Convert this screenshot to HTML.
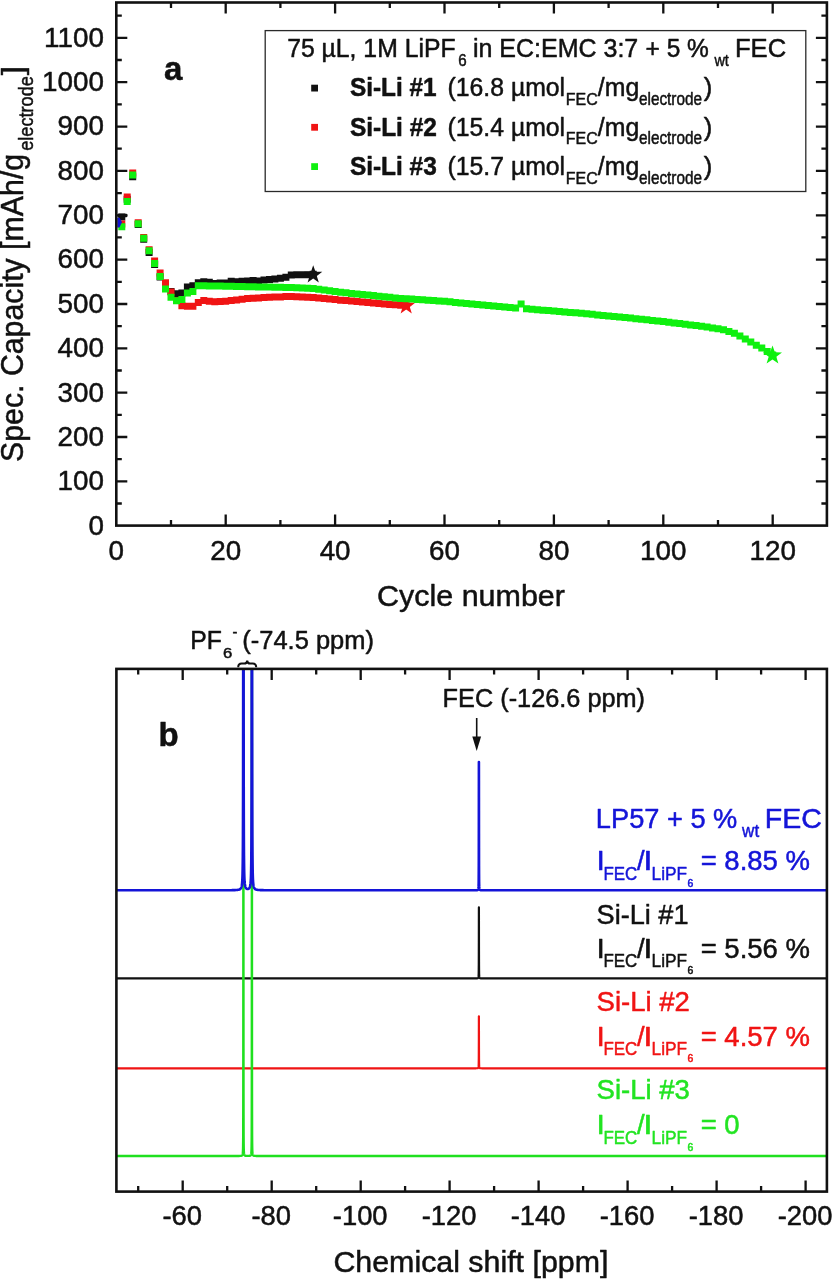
<!DOCTYPE html>
<html lang="en"><head><meta charset="utf-8"><title>Figure</title>
<style>html,body{margin:0;padding:0;background:#fff}svg{display:block}text{stroke-width:.5px;stroke-linejoin:round}</style></head>
<body>
<svg width="834" height="1280" viewBox="0 0 834 1280" font-family='"Liberation Sans", Arial, Helvetica, sans-serif'>
<rect width="834" height="1280" fill="#fff"/>
<g>
<rect x="117.6" y="213.8" width="9.8" height="3.4" rx="1.2" fill="#111"/>
<path d="M118.3 213.5h7.0v7.0h-7.0zM123.7 195.8h7.0v7.0h-7.0zM129.2 173.2h7.0v7.0h-7.0zM134.7 221.1h7.0v7.0h-7.0zM140.2 235.7h7.0v7.0h-7.0zM145.6 249.0h7.0v7.0h-7.0zM151.1 261.0h7.0v7.0h-7.0zM156.6 273.4h7.0v7.0h-7.0zM162.0 284.5h7.0v7.0h-7.0zM167.5 288.0h7.0v7.0h-7.0zM173.0 290.2h7.0v7.0h-7.0zM178.4 289.4h7.0v7.0h-7.0zM183.9 283.6h7.0v7.0h-7.0zM189.4 282.3h7.0v7.0h-7.0zM194.8 279.2h7.0v7.0h-7.0zM200.3 278.3h7.0v7.0h-7.0zM205.8 278.7h7.0v7.0h-7.0zM211.3 280.0h7.0v7.0h-7.0zM216.7 279.6h7.0v7.0h-7.0zM222.2 279.6h7.0v7.0h-7.0zM227.7 277.8h7.0v7.0h-7.0zM233.1 278.3h7.0v7.0h-7.0zM238.6 277.8h7.0v7.0h-7.0zM244.1 277.4h7.0v7.0h-7.0zM249.6 276.9h7.0v7.0h-7.0zM255.0 277.4h7.0v7.0h-7.0zM260.5 276.5h7.0v7.0h-7.0zM266.0 276.1h7.0v7.0h-7.0zM271.4 275.6h7.0v7.0h-7.0zM276.9 274.7h7.0v7.0h-7.0zM282.4 273.8h7.0v7.0h-7.0zM287.8 271.6h7.0v7.0h-7.0zM293.3 271.2h7.0v7.0h-7.0zM298.8 271.2h7.0v7.0h-7.0zM304.2 271.2h7.0v7.0h-7.0zM309.7 270.7h7.0v7.0h-7.0z" fill="#111"/>
<polygon points="313.2,265.2 315.5,271.7 322.3,271.8 316.8,275.9 318.8,282.4 313.2,278.5 307.6,282.4 309.6,275.9 304.2,271.8 311.0,271.7" fill="#111"/>
<path d="M118.3 220.6h7.0v7.0h-7.0zM123.7 193.6h7.0v7.0h-7.0zM129.2 169.6h7.0v7.0h-7.0zM134.7 219.3h7.0v7.0h-7.0zM140.2 233.9h7.0v7.0h-7.0zM145.6 246.3h7.0v7.0h-7.0zM151.1 257.4h7.0v7.0h-7.0zM156.6 269.4h7.0v7.0h-7.0zM162.0 279.2h7.0v7.0h-7.0zM167.5 288.5h7.0v7.0h-7.0zM173.0 296.9h7.0v7.0h-7.0zM178.4 302.2h7.0v7.0h-7.0zM183.9 302.7h7.0v7.0h-7.0zM189.4 302.7h7.0v7.0h-7.0zM194.8 299.1h7.0v7.0h-7.0zM200.3 296.9h7.0v7.0h-7.0zM205.8 297.8h7.0v7.0h-7.0zM211.3 298.2h7.0v7.0h-7.0zM216.7 298.0h7.0v7.0h-7.0zM222.2 297.8h7.0v7.0h-7.0zM227.7 297.1h7.0v7.0h-7.0zM233.1 296.5h7.0v7.0h-7.0zM238.6 295.8h7.0v7.0h-7.0zM244.1 295.1h7.0v7.0h-7.0zM249.6 294.8h7.0v7.0h-7.0zM255.0 294.5h7.0v7.0h-7.0zM260.5 294.1h7.0v7.0h-7.0zM266.0 293.8h7.0v7.0h-7.0zM271.4 293.6h7.0v7.0h-7.0zM276.9 293.4h7.0v7.0h-7.0zM282.4 293.1h7.0v7.0h-7.0zM287.8 292.9h7.0v7.0h-7.0zM293.3 293.2h7.0v7.0h-7.0zM298.8 293.5h7.0v7.0h-7.0zM304.2 293.7h7.0v7.0h-7.0zM309.7 294.0h7.0v7.0h-7.0zM315.2 294.6h7.0v7.0h-7.0zM320.7 295.1h7.0v7.0h-7.0zM326.1 295.6h7.0v7.0h-7.0zM331.6 296.1h7.0v7.0h-7.0zM337.1 296.7h7.0v7.0h-7.0zM342.5 297.1h7.0v7.0h-7.0zM348.0 297.6h7.0v7.0h-7.0zM353.5 298.0h7.0v7.0h-7.0zM358.9 298.5h7.0v7.0h-7.0zM364.4 298.9h7.0v7.0h-7.0zM369.9 299.4h7.0v7.0h-7.0zM375.4 299.9h7.0v7.0h-7.0zM380.8 300.4h7.0v7.0h-7.0zM386.3 300.9h7.0v7.0h-7.0zM391.8 301.3h7.0v7.0h-7.0zM397.2 301.8h7.0v7.0h-7.0zM402.7 302.2h7.0v7.0h-7.0z" fill="#f01414"/>
<polygon points="406.2,296.2 408.4,302.6 415.2,302.8 409.8,306.9 411.8,313.4 406.2,309.5 400.6,313.4 402.6,306.9 397.2,302.8 404.0,302.6" fill="#f01414"/>
<path d="M118.3 223.3h7.0v7.0h-7.0zM123.7 198.0h7.0v7.0h-7.0zM129.2 171.4h7.0v7.0h-7.0zM134.7 220.2h7.0v7.0h-7.0zM140.2 234.8h7.0v7.0h-7.0zM145.6 247.2h7.0v7.0h-7.0zM151.1 260.1h7.0v7.0h-7.0zM156.6 273.0h7.0v7.0h-7.0zM162.0 285.4h7.0v7.0h-7.0zM167.5 293.8h7.0v7.0h-7.0zM173.0 297.3h7.0v7.0h-7.0zM178.4 296.0h7.0v7.0h-7.0zM183.9 289.4h7.0v7.0h-7.0zM189.4 288.0h7.0v7.0h-7.0zM194.8 282.3h7.0v7.0h-7.0zM200.3 282.3h7.0v7.0h-7.0zM205.8 282.4h7.0v7.0h-7.0zM211.3 282.5h7.0v7.0h-7.0zM216.7 282.6h7.0v7.0h-7.0zM222.2 282.7h7.0v7.0h-7.0zM227.7 282.8h7.0v7.0h-7.0zM233.1 282.9h7.0v7.0h-7.0zM238.6 283.0h7.0v7.0h-7.0zM244.1 283.2h7.0v7.0h-7.0zM249.6 283.3h7.0v7.0h-7.0zM255.0 283.4h7.0v7.0h-7.0zM260.5 283.5h7.0v7.0h-7.0zM266.0 283.6h7.0v7.0h-7.0zM271.4 283.7h7.0v7.0h-7.0zM276.9 283.8h7.0v7.0h-7.0zM282.4 283.9h7.0v7.0h-7.0zM287.8 284.0h7.0v7.0h-7.0zM293.3 284.3h7.0v7.0h-7.0zM298.8 284.5h7.0v7.0h-7.0zM304.2 284.7h7.0v7.0h-7.0zM309.7 284.9h7.0v7.0h-7.0zM315.2 285.7h7.0v7.0h-7.0zM320.7 286.4h7.0v7.0h-7.0zM326.1 287.2h7.0v7.0h-7.0zM331.6 287.9h7.0v7.0h-7.0zM337.1 288.7h7.0v7.0h-7.0zM342.5 289.3h7.0v7.0h-7.0zM348.0 289.9h7.0v7.0h-7.0zM353.5 290.4h7.0v7.0h-7.0zM358.9 291.0h7.0v7.0h-7.0zM364.4 291.6h7.0v7.0h-7.0zM369.9 292.1h7.0v7.0h-7.0zM375.4 292.7h7.0v7.0h-7.0zM380.8 293.2h7.0v7.0h-7.0zM386.3 293.8h7.0v7.0h-7.0zM391.8 294.4h7.0v7.0h-7.0zM397.2 294.9h7.0v7.0h-7.0zM402.7 295.3h7.0v7.0h-7.0zM408.2 295.6h7.0v7.0h-7.0zM413.6 296.0h7.0v7.0h-7.0zM419.1 296.3h7.0v7.0h-7.0zM424.6 296.7h7.0v7.0h-7.0zM430.1 297.1h7.0v7.0h-7.0zM435.5 297.4h7.0v7.0h-7.0zM441.0 297.8h7.0v7.0h-7.0zM446.5 298.3h7.0v7.0h-7.0zM451.9 298.9h7.0v7.0h-7.0zM457.4 299.4h7.0v7.0h-7.0zM462.9 300.0h7.0v7.0h-7.0zM468.4 300.5h7.0v7.0h-7.0zM473.8 301.1h7.0v7.0h-7.0zM479.3 301.6h7.0v7.0h-7.0zM484.8 302.1h7.0v7.0h-7.0zM490.2 302.5h7.0v7.0h-7.0zM495.7 303.0h7.0v7.0h-7.0zM501.2 303.5h7.0v7.0h-7.0zM506.6 304.0h7.0v7.0h-7.0zM512.1 304.4h7.0v7.0h-7.0zM517.6 300.5h7.0v7.0h-7.0zM523.0 305.3h7.0v7.0h-7.0zM528.5 305.8h7.0v7.0h-7.0zM534.0 306.2h7.0v7.0h-7.0zM539.5 306.7h7.0v7.0h-7.0zM544.9 307.1h7.0v7.0h-7.0zM550.4 307.5h7.0v7.0h-7.0zM555.9 308.0h7.0v7.0h-7.0zM561.3 308.4h7.0v7.0h-7.0zM566.8 308.9h7.0v7.0h-7.0zM572.3 309.3h7.0v7.0h-7.0zM577.8 309.8h7.0v7.0h-7.0zM583.2 310.3h7.0v7.0h-7.0zM588.7 310.8h7.0v7.0h-7.0zM594.2 311.4h7.0v7.0h-7.0zM599.6 311.9h7.0v7.0h-7.0zM605.1 312.5h7.0v7.0h-7.0zM610.6 313.0h7.0v7.0h-7.0zM616.0 313.5h7.0v7.0h-7.0zM621.5 314.1h7.0v7.0h-7.0zM627.0 314.6h7.0v7.0h-7.0zM632.4 315.2h7.0v7.0h-7.0zM637.9 315.7h7.0v7.0h-7.0zM643.4 316.3h7.0v7.0h-7.0zM648.9 316.9h7.0v7.0h-7.0zM654.3 317.5h7.0v7.0h-7.0zM659.8 318.1h7.0v7.0h-7.0zM665.3 318.7h7.0v7.0h-7.0zM670.7 319.4h7.0v7.0h-7.0zM676.2 320.0h7.0v7.0h-7.0zM681.7 320.7h7.0v7.0h-7.0zM687.1 321.4h7.0v7.0h-7.0zM692.6 322.1h7.0v7.0h-7.0zM698.1 322.8h7.0v7.0h-7.0zM703.6 323.5h7.0v7.0h-7.0zM709.0 324.4h7.0v7.0h-7.0zM714.5 325.3h7.0v7.0h-7.0zM720.0 326.2h7.0v7.0h-7.0zM725.4 327.9h7.0v7.0h-7.0zM730.9 329.7h7.0v7.0h-7.0zM736.4 332.4h7.0v7.0h-7.0zM741.8 335.5h7.0v7.0h-7.0zM747.3 338.6h7.0v7.0h-7.0zM752.8 341.7h7.0v7.0h-7.0zM758.3 344.4h7.0v7.0h-7.0zM763.7 347.9h7.0v7.0h-7.0zM769.2 351.5h7.0v7.0h-7.0z" fill="#0ff00f"/>
<polygon points="772.5,345.6 774.9,352.3 782.0,352.5 776.3,356.8 778.4,363.6 772.5,359.6 766.6,363.6 768.7,356.8 763.0,352.5 770.1,352.3" fill="#0ff00f"/>
<polygon points="117.3,217.7 119.6,217.7 122,222.3 119.4,227.4 117.3,227.4" fill="#1212d4"/>
</g>
<g stroke="#111" stroke-width="2.6" fill="none" stroke-linecap="butt">
<rect x="116.3" y="2.5" width="710.6" height="523.1"/>
<path d="M116.3 503.5h5.5M826.9 503.5h-5.5M116.3 481.4h11M826.9 481.4h-11M116.3 459.2h5.5M826.9 459.2h-5.5M116.3 437.0h11M826.9 437.0h-11M116.3 414.8h5.5M826.9 414.8h-5.5M116.3 392.7h11M826.9 392.7h-11M116.3 370.5h5.5M826.9 370.5h-5.5M116.3 348.3h11M826.9 348.3h-11M116.3 326.1h5.5M826.9 326.1h-5.5M116.3 304.0h11M826.9 304.0h-11M116.3 281.8h5.5M826.9 281.8h-5.5M116.3 259.6h11M826.9 259.6h-11M116.3 237.4h5.5M826.9 237.4h-5.5M116.3 215.3h11M826.9 215.3h-11M116.3 193.1h5.5M826.9 193.1h-5.5M116.3 170.9h11M826.9 170.9h-11M116.3 148.7h5.5M826.9 148.7h-5.5M116.3 126.6h11M826.9 126.6h-11M116.3 104.4h5.5M826.9 104.4h-5.5M116.3 82.2h11M826.9 82.2h-11M116.3 60.0h5.5M826.9 60.0h-5.5M116.3 37.9h11M826.9 37.9h-11M116.3 15.7h5.5M826.9 15.7h-5.5M171.0 525.6v-5.5M171.0 2.5v5.5M225.7 525.6v-11M225.7 2.5v11M280.4 525.6v-5.5M280.4 2.5v5.5M335.1 525.6v-11M335.1 2.5v11M389.8 525.6v-5.5M389.8 2.5v5.5M444.5 525.6v-11M444.5 2.5v11M499.2 525.6v-5.5M499.2 2.5v5.5M553.9 525.6v-11M553.9 2.5v11M608.6 525.6v-5.5M608.6 2.5v5.5M663.3 525.6v-11M663.3 2.5v11M718.0 525.6v-5.5M718.0 2.5v5.5M772.7 525.6v-11M772.7 2.5v11" stroke-width="2.3"/>
</g>
<g font-size="27.8" fill="#111" stroke="#111">
<text x="103.9" y="534.5" text-anchor="end">0</text>
<text x="103.9" y="490.2" text-anchor="end">100</text>
<text x="103.9" y="445.8" text-anchor="end">200</text>
<text x="103.9" y="401.5" text-anchor="end">300</text>
<text x="103.9" y="357.1" text-anchor="end">400</text>
<text x="103.9" y="312.8" text-anchor="end">500</text>
<text x="103.9" y="268.4" text-anchor="end">600</text>
<text x="103.9" y="224.1" text-anchor="end">700</text>
<text x="103.9" y="179.7" text-anchor="end">800</text>
<text x="103.9" y="135.4" text-anchor="end">900</text>
<text x="103.9" y="91.0" text-anchor="end">1000</text>
<text x="103.9" y="46.7" text-anchor="end">1100</text>
<text x="116.3" y="559.5" text-anchor="middle">0</text>
<text x="225.7" y="559.5" text-anchor="middle">20</text>
<text x="335.1" y="559.5" text-anchor="middle">40</text>
<text x="444.5" y="559.5" text-anchor="middle">60</text>
<text x="553.9" y="559.5" text-anchor="middle">80</text>
<text x="663.3" y="559.5" text-anchor="middle">100</text>
<text x="772.7" y="559.5" text-anchor="middle">120</text>
</g>
<g fill="#111" stroke="#111">
<text x="377.05" y="606.10" font-size="30" textLength="187.85" lengthAdjust="spacingAndGlyphs">Cycle number</text>
<g transform="translate(0 461) rotate(-90)">
<text x="-0.98" y="22.60" font-size="31" textLength="308.03" lengthAdjust="spacingAndGlyphs">Spec. Capacity [mAh/g</text>
<text x="310.23" y="33.30" font-size="21" textLength="74.68" lengthAdjust="spacingAndGlyphs">electrode</text>
<text x="385.84" y="22.60" font-size="30" textLength="9.23" lengthAdjust="spacingAndGlyphs">]</text>
</g>
<text x="164" y="79.7" font-size="33" font-weight="bold">a</text>
</g>
<rect x="265.2" y="30.6" width="540.6" height="160.9" fill="#fff" stroke="#2a2a2a" stroke-width="1.3"/>
<g fill="#111" stroke="#111">
<text x="287.13" y="57.00" font-size="25" textLength="168.46" lengthAdjust="spacingAndGlyphs">75 µL, 1M LiPF</text>
<text x="458.13" y="66.40" font-size="17" textLength="8.44" lengthAdjust="spacingAndGlyphs" stroke-width=".42">6</text>
<text x="472.92" y="57.00" font-size="25">in EC:EMC 3:7</text>
<text x="645.60" y="57.00" font-size="25" textLength="63.27" lengthAdjust="spacingAndGlyphs">+ 5 %</text>
<text x="714.42" y="65.80" font-size="17" textLength="14.48" lengthAdjust="spacingAndGlyphs" stroke-width=".42">wt</text>
<text x="734.90" y="57.00" font-size="25" textLength="51.28" lengthAdjust="spacingAndGlyphs">FEC</text>
<rect x="311.2" y="84.7" width="6.8" height="6.8" fill="#111" stroke="none"/>
<text x="349.90" y="96.30" font-size="25" textLength="86.68" lengthAdjust="spacingAndGlyphs" font-weight="bold">Si-Li #1</text>
<text x="447.56" y="96.30" font-size="25" textLength="117.59" lengthAdjust="spacingAndGlyphs">(16.8 µmol</text>
<text x="565.79" y="105.10" font-size="17" textLength="31.92" lengthAdjust="spacingAndGlyphs" stroke-width=".42">FEC</text>
<text x="597.80" y="96.30" font-size="25" textLength="41.40" lengthAdjust="spacingAndGlyphs">/mg</text>
<text x="638.95" y="105.10" font-size="17.5" textLength="63.13" lengthAdjust="spacingAndGlyphs" stroke-width=".42">electrode</text>
<text x="703.65" y="96.30" font-size="25" textLength="8.54" lengthAdjust="spacingAndGlyphs">)</text>
<rect x="311.2" y="123.9" width="6.8" height="6.8" fill="#f01414" stroke="none"/>
<text x="349.90" y="135.50" font-size="25" textLength="86.98" lengthAdjust="spacingAndGlyphs" font-weight="bold">Si-Li #2</text>
<text x="447.56" y="135.50" font-size="25" textLength="117.59" lengthAdjust="spacingAndGlyphs">(15.4 µmol</text>
<text x="565.79" y="144.30" font-size="17" textLength="31.92" lengthAdjust="spacingAndGlyphs" stroke-width=".42">FEC</text>
<text x="597.80" y="135.50" font-size="25" textLength="41.40" lengthAdjust="spacingAndGlyphs">/mg</text>
<text x="638.95" y="144.30" font-size="17.5" textLength="63.13" lengthAdjust="spacingAndGlyphs" stroke-width=".42">electrode</text>
<text x="703.65" y="135.50" font-size="25" textLength="8.54" lengthAdjust="spacingAndGlyphs">)</text>
<rect x="311.2" y="163.2" width="6.8" height="6.8" fill="#0ff00f" stroke="none"/>
<text x="349.90" y="174.80" font-size="25" textLength="86.89" lengthAdjust="spacingAndGlyphs" font-weight="bold">Si-Li #3</text>
<text x="447.56" y="174.80" font-size="25" textLength="117.59" lengthAdjust="spacingAndGlyphs">(15.7 µmol</text>
<text x="565.79" y="183.60" font-size="17" textLength="31.92" lengthAdjust="spacingAndGlyphs" stroke-width=".42">FEC</text>
<text x="597.80" y="174.80" font-size="25" textLength="41.40" lengthAdjust="spacingAndGlyphs">/mg</text>
<text x="638.95" y="183.60" font-size="17.5" textLength="63.13" lengthAdjust="spacingAndGlyphs" stroke-width=".42">electrode</text>
<text x="703.65" y="174.80" font-size="25" textLength="8.54" lengthAdjust="spacingAndGlyphs">)</text>
</g>
<clipPath id="cb"><rect x="116.4" y="668.9" width="710.5" height="522.7"/></clipPath>
<g clip-path="url(#cb)" fill="none" stroke-width="2" stroke-linejoin="round">
<path d="M116.40 978.40L453.90 978.40L456.75 978.40L459.27 978.40L461.50 978.40L463.48 978.40L465.24 978.40L466.79 978.40L468.17 978.40L469.39 978.40L470.48 978.40L471.44 978.40L472.29 978.39L473.04 978.39L473.70 978.39L474.30 978.39L474.82 978.38L475.29 978.38L475.70 978.38L476.06 978.37L476.38 978.36L476.67 978.35L476.93 978.33L477.15 978.32L477.35 978.29L477.52 978.27L477.68 978.23L477.82 978.18L477.94 978.12L478.05 978.05L478.15 977.95L478.23 977.83L478.31 977.67L478.38 977.48L478.44 977.23L478.49 976.91L478.54 976.52L478.58 976.02L478.61 975.41L478.65 974.62L478.68 973.65L478.70 972.48L478.72 971.01L478.74 969.25L478.76 967.11L478.78 964.75L478.79 961.89L478.80 958.46L478.81 954.79L478.82 951.14L478.83 946.80L478.84 942.30L478.85 938.52L478.85 934.40L478.86 930.00L478.86 926.96L478.87 923.12L478.87 920.85L478.88 917.90L478.88 916.50L478.88 914.50L478.90 907.40L478.92 914.50L478.92 916.50L478.93 917.90L478.93 920.85L478.93 923.12L478.94 926.96L478.94 930.00L478.95 934.40L478.95 938.52L478.96 942.30L478.97 946.80L478.98 951.14L478.99 954.79L479.00 958.46L479.01 961.89L479.02 964.75L479.04 967.11L479.06 969.25L479.08 971.01L479.10 972.48L479.12 973.65L479.15 974.62L479.19 975.41L479.22 976.02L479.26 976.52L479.31 976.91L479.36 977.23L479.42 977.48L479.49 977.67L479.57 977.83L479.65 977.95L479.75 978.05L479.86 978.12L479.98 978.18L480.12 978.23L480.27 978.27L480.45 978.29L480.65 978.32L480.88 978.33L481.13 978.35L481.42 978.36L481.74 978.37L482.10 978.38L482.51 978.38L482.98 978.38L483.50 978.39L484.10 978.39L484.76 978.39L485.51 978.39L486.37 978.40L487.32 978.40L488.41 978.40L489.63 978.40L491.01 978.40L492.56 978.40L494.32 978.40L496.30 978.40L498.53 978.40L501.05 978.40L503.90 978.40L826.90 978.40" stroke="#111" stroke-width="2.2"/>
<path d="M116.40 1068.30L453.90 1068.30L456.75 1068.30L459.27 1068.30L461.50 1068.30L463.48 1068.30L465.24 1068.30L466.79 1068.30L468.17 1068.30L469.39 1068.30L470.48 1068.30L471.44 1068.30L472.29 1068.30L473.04 1068.29L473.70 1068.29L474.30 1068.29L474.82 1068.29L475.29 1068.29L475.70 1068.28L476.06 1068.28L476.38 1068.27L476.67 1068.26L476.93 1068.25L477.15 1068.24L477.35 1068.22L477.52 1068.20L477.68 1068.17L477.82 1068.14L477.94 1068.10L478.05 1068.04L478.15 1067.97L478.23 1067.88L478.31 1067.77L478.38 1067.62L478.44 1067.44L478.49 1067.21L478.54 1066.92L478.58 1066.56L478.61 1066.11L478.65 1065.53L478.68 1064.82L478.70 1063.97L478.72 1062.89L478.74 1061.60L478.76 1060.03L478.78 1058.30L478.79 1056.21L478.80 1053.69L478.81 1051.01L478.82 1048.33L478.83 1045.16L478.84 1041.86L478.85 1039.09L478.85 1036.07L478.86 1032.85L478.86 1030.63L478.87 1027.82L478.87 1026.15L478.88 1023.99L478.88 1022.96L478.88 1021.50L478.90 1016.30L478.92 1021.50L478.92 1022.96L478.93 1023.99L478.93 1026.15L478.93 1027.82L478.94 1030.63L478.94 1032.85L478.95 1036.07L478.95 1039.09L478.96 1041.86L478.97 1045.16L478.98 1048.33L478.99 1051.01L479.00 1053.69L479.01 1056.21L479.02 1058.30L479.04 1060.03L479.06 1061.60L479.08 1062.89L479.10 1063.97L479.12 1064.82L479.15 1065.53L479.19 1066.11L479.22 1066.56L479.26 1066.92L479.31 1067.21L479.36 1067.44L479.42 1067.62L479.49 1067.77L479.57 1067.88L479.65 1067.97L479.75 1068.04L479.86 1068.10L479.98 1068.14L480.12 1068.17L480.27 1068.20L480.45 1068.22L480.65 1068.24L480.88 1068.25L481.13 1068.26L481.42 1068.27L481.74 1068.28L482.10 1068.28L482.51 1068.29L482.98 1068.29L483.50 1068.29L484.10 1068.29L484.76 1068.29L485.51 1068.30L486.37 1068.30L487.32 1068.30L488.41 1068.30L489.63 1068.30L491.01 1068.30L492.56 1068.30L494.32 1068.30L496.30 1068.30L498.53 1068.30L501.05 1068.30L503.90 1068.30L826.90 1068.30" stroke="#f01414" stroke-width="2.2"/>
<path d="M116.40 1156.00L218.40 1156.00L221.25 1156.00L223.77 1156.00L226.00 1156.00L226.90 1155.99L227.98 1155.99L229.74 1155.99L229.75 1155.99L231.29 1155.99L232.27 1155.99L232.67 1155.99L233.89 1155.99L234.50 1155.98L234.98 1155.98L235.94 1155.98L236.48 1155.97L236.78 1155.97L237.54 1155.97L238.21 1155.96L238.24 1155.96L238.80 1155.95L239.32 1155.93L239.78 1155.92L239.79 1155.92L240.20 1155.90L240.56 1155.87L240.88 1155.83L241.17 1155.79L241.17 1155.79L241.43 1155.73L241.65 1155.66L241.85 1155.57L242.03 1155.46L242.18 1155.32L242.32 1155.13L242.39 1155.00L242.44 1154.90L242.55 1154.60L242.65 1154.22L242.73 1153.73L242.81 1153.12L242.88 1152.33L242.94 1151.32L242.99 1150.04L243.04 1148.45L243.08 1146.35L243.11 1143.78L243.15 1140.39L243.18 1136.10L243.20 1130.80L243.22 1123.81L243.24 1115.06L243.26 1103.75L243.28 1090.32L243.29 1072.52L243.30 1048.64L243.31 1019.47L243.32 985.80L243.33 938.07L243.34 876.73L243.35 812.23L243.35 722.90L243.36 662.90L243.36 662.90L243.37 662.90L243.37 662.90L243.38 662.90L243.38 662.90L243.38 662.90L243.40 662.90L243.42 662.90L243.42 662.90L243.43 662.90L243.43 662.90L243.43 662.90L243.44 662.90L243.44 662.90L243.45 722.90L243.45 812.23L243.46 876.73L243.47 938.07L243.48 985.80L243.49 1019.47L243.50 1048.64L243.51 1072.52L243.52 1090.32L243.54 1103.75L243.56 1115.06L243.58 1123.81L243.60 1130.80L243.62 1136.10L243.65 1140.39L243.69 1143.77L243.72 1146.35L243.76 1148.44L243.81 1150.04L243.86 1151.32L243.92 1152.33L243.99 1153.11L244.07 1153.73L244.15 1154.21L244.25 1154.59L244.36 1154.89L244.44 1155.05L244.48 1155.12L244.62 1155.31L244.78 1155.45L244.95 1155.56L245.15 1155.65L245.28 1155.70L245.38 1155.72L245.63 1155.77L245.92 1155.81L246.04 1155.83L246.24 1155.84L246.60 1155.87L246.71 1155.87L247.01 1155.88L247.30 1155.89L247.48 1155.89L247.82 1155.89L248.00 1155.89L248.28 1155.88L248.59 1155.87L248.70 1155.87L249.06 1155.84L249.26 1155.83L249.38 1155.81L249.67 1155.77L249.93 1155.72L250.01 1155.70L250.15 1155.65L250.35 1155.56L250.53 1155.45L250.68 1155.31L250.82 1155.12L250.87 1155.05L250.94 1154.89L251.05 1154.59L251.15 1154.21L251.23 1153.73L251.31 1153.11L251.38 1152.33L251.44 1151.32L251.49 1150.04L251.54 1148.44L251.58 1146.35L251.61 1143.77L251.65 1140.39L251.68 1136.10L251.70 1130.80L251.72 1123.81L251.74 1115.06L251.76 1103.75L251.78 1090.32L251.79 1072.52L251.80 1048.64L251.81 1019.47L251.82 985.80L251.83 938.07L251.84 876.73L251.85 812.23L251.85 722.90L251.86 662.90L251.86 662.90L251.87 662.90L251.87 662.90L251.88 662.90L251.88 662.90L251.88 662.90L251.90 662.90L251.92 662.90L251.92 662.90L251.93 662.90L251.93 662.90L251.93 662.90L251.94 662.90L251.94 662.90L251.95 722.90L251.95 812.23L251.96 876.73L251.97 938.07L251.98 985.80L251.99 1019.47L252.00 1048.64L252.01 1072.52L252.02 1090.32L252.04 1103.75L252.06 1115.06L252.08 1123.81L252.10 1130.80L252.12 1136.10L252.15 1140.39L252.19 1143.78L252.22 1146.35L252.26 1148.45L252.31 1150.04L252.36 1151.32L252.42 1152.33L252.49 1153.12L252.57 1153.73L252.65 1154.22L252.75 1154.60L252.86 1154.90L252.91 1155.00L252.98 1155.13L253.12 1155.32L253.28 1155.46L253.45 1155.57L253.65 1155.66L253.88 1155.73L254.13 1155.79L254.13 1155.79L254.42 1155.83L254.74 1155.87L255.10 1155.90L255.51 1155.92L255.51 1155.92L255.98 1155.93L256.50 1155.95L257.06 1155.96L257.10 1155.96L257.76 1155.97L258.51 1155.97L258.82 1155.97L259.37 1155.98L260.32 1155.98L260.80 1155.98L261.41 1155.99L262.63 1155.99L263.03 1155.99L264.01 1155.99L265.55 1155.99L265.56 1155.99L267.32 1155.99L268.40 1155.99L269.30 1156.00L271.53 1156.00L274.05 1156.00L276.90 1156.00L826.90 1156.00" stroke="#1fe01f" stroke-width="2.4"/>
<path d="M116.40 890.30L218.40 890.27L221.25 890.26L223.77 890.25L226.00 890.24L226.90 890.24L227.98 890.23L229.74 890.21L229.75 890.21L231.29 890.19L232.27 890.17L232.67 890.16L233.89 890.13L234.50 890.11L234.98 890.09L235.94 890.04L236.48 890.00L236.78 889.97L237.54 889.89L238.21 889.79L238.24 889.79L238.80 889.66L239.32 889.50L239.78 889.30L239.79 889.30L240.20 889.04L240.56 888.72L240.88 888.31L241.17 887.78L241.17 887.78L241.43 887.11L241.65 886.27L241.85 885.19L242.03 883.83L242.18 882.08L242.32 879.86L242.39 878.31L242.44 877.06L242.55 873.48L242.65 868.89L242.73 863.11L242.81 855.69L242.88 846.30L242.94 834.20L242.99 818.81L243.04 799.65L243.08 774.52L243.11 743.62L243.15 702.96L243.18 662.90L243.20 662.90L243.22 662.90L243.24 662.90L243.26 662.90L243.28 662.90L243.29 662.90L243.30 662.90L243.31 662.90L243.32 662.90L243.33 662.90L243.34 662.90L243.35 662.90L243.35 662.90L243.36 662.90L243.36 662.90L243.37 662.90L243.37 662.90L243.38 662.90L243.38 662.90L243.38 662.90L243.40 662.90L243.42 662.90L243.42 662.90L243.43 662.90L243.43 662.90L243.43 662.90L243.44 662.90L243.44 662.90L243.45 662.90L243.45 662.90L243.46 662.90L243.47 662.90L243.48 662.90L243.49 662.90L243.50 662.90L243.51 662.90L243.52 662.90L243.54 662.90L243.56 662.90L243.58 662.90L243.60 662.90L243.62 662.90L243.65 702.94L243.69 743.59L243.72 774.50L243.76 799.62L243.81 818.77L243.86 834.16L243.92 846.26L243.99 855.65L244.07 863.06L244.15 868.83L244.25 873.41L244.36 876.99L244.44 878.88L244.48 879.78L244.62 881.99L244.78 883.72L244.95 885.06L245.15 886.12L245.28 886.65L245.38 886.94L245.63 887.58L245.92 888.07L246.04 888.23L246.24 888.44L246.60 888.70L246.71 888.76L247.01 888.88L247.30 888.94L247.48 888.96L247.82 888.96L248.00 888.94L248.28 888.88L248.59 888.76L248.70 888.70L249.06 888.44L249.26 888.23L249.38 888.07L249.67 887.58L249.93 886.94L250.01 886.65L250.15 886.12L250.35 885.06L250.53 883.72L250.68 881.99L250.82 879.78L250.87 878.88L250.94 876.99L251.05 873.41L251.15 868.83L251.23 863.06L251.31 855.65L251.38 846.26L251.44 834.16L251.49 818.77L251.54 799.62L251.58 774.50L251.61 743.59L251.65 702.94L251.68 662.90L251.70 662.90L251.72 662.90L251.74 662.90L251.76 662.90L251.78 662.90L251.79 662.90L251.80 662.90L251.81 662.90L251.82 662.90L251.83 662.90L251.84 662.90L251.85 662.90L251.85 662.90L251.86 662.90L251.86 662.90L251.87 662.90L251.87 662.90L251.88 662.90L251.88 662.90L251.88 662.90L251.90 662.90L251.92 662.90L251.92 662.90L251.93 662.90L251.93 662.90L251.93 662.90L251.94 662.90L251.94 662.90L251.95 662.90L251.95 662.90L251.96 662.90L251.97 662.90L251.98 662.90L251.99 662.90L252.00 662.90L252.01 662.90L252.02 662.90L252.04 662.90L252.06 662.90L252.08 662.90L252.10 662.90L252.12 662.90L252.15 702.96L252.19 743.62L252.22 774.52L252.26 799.65L252.31 818.81L252.36 834.20L252.42 846.30L252.49 855.69L252.57 863.11L252.65 868.89L252.75 873.48L252.86 877.06L252.91 878.31L252.98 879.86L253.12 882.08L253.28 883.83L253.45 885.19L253.65 886.27L253.88 887.11L254.13 887.78L254.13 887.78L254.42 888.31L254.74 888.72L255.10 889.04L255.51 889.30L255.51 889.30L255.98 889.50L256.50 889.66L257.06 889.79L257.10 889.79L257.76 889.89L258.51 889.97L258.82 890.00L259.37 890.04L260.32 890.09L260.80 890.11L261.41 890.13L262.63 890.16L263.03 890.17L264.01 890.19L265.55 890.21L265.56 890.21L267.32 890.23L268.40 890.24L269.30 890.24L271.53 890.25L274.05 890.26L276.90 890.27L453.90 890.30L456.75 890.30L459.27 890.30L461.50 890.30L463.48 890.30L465.24 890.30L466.79 890.30L468.17 890.30L469.39 890.29L470.48 890.29L471.44 890.29L472.29 890.29L473.04 890.29L473.70 890.28L474.30 890.28L474.82 890.27L475.29 890.26L475.70 890.25L476.06 890.24L476.38 890.23L476.67 890.21L476.93 890.18L477.15 890.15L477.35 890.11L477.52 890.06L477.68 889.99L477.82 889.90L477.94 889.80L478.05 889.66L478.15 889.49L478.23 889.27L478.31 888.99L478.38 888.63L478.44 888.18L478.49 887.61L478.54 886.91L478.58 885.99L478.61 884.89L478.65 883.47L478.68 881.71L478.70 879.61L478.72 876.94L478.74 873.77L478.76 869.90L478.78 865.64L478.79 860.46L478.80 854.26L478.81 847.63L478.82 841.04L478.83 833.20L478.84 825.07L478.85 818.23L478.85 810.79L478.86 802.84L478.86 797.35L478.87 790.41L478.87 786.30L478.88 780.98L478.88 778.44L478.88 774.83L478.90 762.00L478.92 774.83L478.92 778.44L478.93 780.98L478.93 786.30L478.93 790.41L478.94 797.35L478.94 802.84L478.95 810.79L478.95 818.23L478.96 825.07L478.97 833.20L478.98 841.04L478.99 847.63L479.00 854.26L479.01 860.46L479.02 865.64L479.04 869.90L479.06 873.77L479.08 876.94L479.10 879.61L479.12 881.71L479.15 883.47L479.19 884.89L479.22 885.99L479.26 886.91L479.31 887.61L479.36 888.18L479.42 888.63L479.49 888.99L479.57 889.27L479.65 889.49L479.75 889.66L479.86 889.80L479.98 889.90L480.12 889.99L480.27 890.06L480.45 890.11L480.65 890.15L480.88 890.18L481.13 890.21L481.42 890.23L481.74 890.24L482.10 890.25L482.51 890.26L482.98 890.27L483.50 890.28L484.10 890.28L484.76 890.29L485.51 890.29L486.37 890.29L487.32 890.29L488.41 890.29L489.63 890.30L491.01 890.30L492.56 890.30L494.32 890.30L496.30 890.30L498.53 890.30L501.05 890.30L503.90 890.30L826.90 890.30" stroke="#1414d8" stroke-width="2.6"/>
</g>
<g stroke="#111" stroke-width="2.6" fill="none">
<rect x="116.4" y="668.9" width="710.5" height="522.7"/>
<path d="M138.2 1191.6v-5.5M138.2 668.9v5.5M182.7 1191.6v-11M182.7 668.9v11M227.2 1191.6v-5.5M227.2 668.9v5.5M271.7 1191.6v-11M271.7 668.9v11M316.2 1191.6v-5.5M316.2 668.9v5.5M360.7 1191.6v-11M360.7 668.9v11M405.1 1191.6v-5.5M405.1 668.9v5.5M449.6 1191.6v-11M449.6 668.9v11M494.1 1191.6v-5.5M494.1 668.9v5.5M538.6 1191.6v-11M538.6 668.9v11M583.1 1191.6v-5.5M583.1 668.9v5.5M627.6 1191.6v-11M627.6 668.9v11M672.1 1191.6v-5.5M672.1 668.9v5.5M716.6 1191.6v-11M716.6 668.9v11M761.1 1191.6v-5.5M761.1 668.9v5.5M805.6 1191.6v-11M805.6 668.9v11" stroke-width="2.3"/>
</g>
<g font-size="27.4" fill="#111" stroke="#111">
<text x="182.2" y="1224.9" text-anchor="middle">-60</text>
<text x="271.2" y="1224.9" text-anchor="middle">-80</text>
<text x="360.2" y="1224.9" text-anchor="middle">-100</text>
<text x="449.1" y="1224.9" text-anchor="middle">-120</text>
<text x="538.1" y="1224.9" text-anchor="middle">-140</text>
<text x="627.1" y="1224.9" text-anchor="middle">-160</text>
<text x="716.1" y="1224.9" text-anchor="middle">-180</text>
<text x="805.1" y="1224.9" text-anchor="middle">-200</text>
</g>
<text x="333.46" y="1272.40" font-size="30" textLength="274.90" lengthAdjust="spacingAndGlyphs" fill="#111" stroke="#111">Chemical shift [ppm]</text>
<text x="158.5" y="745.8" font-size="33" font-weight="bold" fill="#111" stroke="#111">b</text>
<g fill="#111" stroke="#111">
<text x="190.37" y="648.80" font-size="25" textLength="31.62" lengthAdjust="spacingAndGlyphs">PF</text>
<text x="223.05" y="658.00" font-size="14.5" textLength="9.28" lengthAdjust="spacingAndGlyphs" stroke-width=".3">6</text>
<text x="232.54" y="637.00" font-size="15.5" textLength="4.91" lengthAdjust="spacingAndGlyphs" stroke-width=".3">-</text>
<text x="242.32" y="648.80" font-size="25" textLength="131.66" lengthAdjust="spacingAndGlyphs">(-74.5 ppm)</text>
</g>
<path d="M238.2 667.2 q0 -3.6 3.5 -3.6 h2.6 q2.6 0 2.9 -3 q0.3 3 2.9 3 h2.6 q3.5 0 3.5 3.6" fill="none" stroke="#111" stroke-width="2"/>
<text x="442.62" y="706.60" font-size="25" textLength="202.44" lengthAdjust="spacingAndGlyphs" fill="#111" stroke="#111">FEC (-126.6 ppm)</text>
<path d="M476.7 718v20" stroke="#111" stroke-width="1.6"/><polygon points="472.3,736.5 481.1,736.5 476.7,751" fill="#111"/>
<g fill="#1414d8" stroke="#1414d8">
<text x="595.87" y="827.80" font-size="27.5" textLength="141.40" lengthAdjust="spacingAndGlyphs">LP57 + 5 %</text>
<text x="742.12" y="837.40" font-size="19" textLength="17.00" lengthAdjust="spacingAndGlyphs">wt</text>
<text x="764.86" y="827.80" font-size="27.5" textLength="57.02" lengthAdjust="spacingAndGlyphs">FEC</text>
</g>
<g fill="#1414d8" stroke="#1414d8"><text x="596.63" y="870.20" font-size="27.5" textLength="8.34" lengthAdjust="spacingAndGlyphs">I</text><text x="603.51" y="879.80" font-size="19" textLength="33.83" lengthAdjust="spacingAndGlyphs">FEC</text><text x="637.00" y="870.20" font-size="27.5" textLength="7.60" lengthAdjust="spacingAndGlyphs">/</text><text x="643.33" y="870.20" font-size="27.5" textLength="9.24" lengthAdjust="spacingAndGlyphs">I</text><text x="651.58" y="879.80" font-size="19" textLength="35.51" lengthAdjust="spacingAndGlyphs">LiPF</text><text x="687.47" y="886.80" font-size="10" textLength="5.79" lengthAdjust="spacingAndGlyphs" stroke-width=".3">6</text><text x="700.66" y="870.20" font-size="27.5">= 8.85 %</text></g>
<text x="596.57" y="923.50" font-size="27.5" textLength="91.96" lengthAdjust="spacingAndGlyphs" fill="#111" stroke="#111">Si-Li #1</text>
<g fill="#111" stroke="#111"><text x="596.63" y="957.60" font-size="27.5" textLength="8.34" lengthAdjust="spacingAndGlyphs">I</text><text x="603.51" y="967.20" font-size="19" textLength="33.83" lengthAdjust="spacingAndGlyphs">FEC</text><text x="637.00" y="957.60" font-size="27.5" textLength="7.60" lengthAdjust="spacingAndGlyphs">/</text><text x="643.33" y="957.60" font-size="27.5" textLength="9.24" lengthAdjust="spacingAndGlyphs">I</text><text x="651.58" y="967.20" font-size="19" textLength="35.51" lengthAdjust="spacingAndGlyphs">LiPF</text><text x="687.47" y="974.20" font-size="10" textLength="5.79" lengthAdjust="spacingAndGlyphs" stroke-width=".3">6</text><text x="700.66" y="957.60" font-size="27.5">= 5.56 %</text></g>
<text x="596.55" y="1010.50" font-size="27.5" fill="#f01414" stroke="#f01414">Si-Li #2</text>
<g fill="#f01414" stroke="#f01414"><text x="596.63" y="1045.50" font-size="27.5" textLength="8.34" lengthAdjust="spacingAndGlyphs">I</text><text x="603.51" y="1055.10" font-size="19" textLength="33.83" lengthAdjust="spacingAndGlyphs">FEC</text><text x="637.00" y="1045.50" font-size="27.5" textLength="7.60" lengthAdjust="spacingAndGlyphs">/</text><text x="643.33" y="1045.50" font-size="27.5" textLength="9.24" lengthAdjust="spacingAndGlyphs">I</text><text x="651.58" y="1055.10" font-size="19" textLength="35.51" lengthAdjust="spacingAndGlyphs">LiPF</text><text x="687.47" y="1062.10" font-size="10" textLength="5.79" lengthAdjust="spacingAndGlyphs" stroke-width=".3">6</text><text x="700.66" y="1045.50" font-size="27.5">= 4.57 %</text></g>
<text x="596.55" y="1099.10" font-size="27.5" fill="#22e422" stroke="#22e422">Si-Li #3</text>
<g fill="#22e422" stroke="#22e422"><text x="596.63" y="1134.40" font-size="27.5" textLength="8.34" lengthAdjust="spacingAndGlyphs">I</text><text x="603.51" y="1144.00" font-size="19" textLength="33.83" lengthAdjust="spacingAndGlyphs">FEC</text><text x="637.00" y="1134.40" font-size="27.5" textLength="7.60" lengthAdjust="spacingAndGlyphs">/</text><text x="643.33" y="1134.40" font-size="27.5" textLength="9.24" lengthAdjust="spacingAndGlyphs">I</text><text x="651.58" y="1144.00" font-size="19" textLength="35.51" lengthAdjust="spacingAndGlyphs">LiPF</text><text x="687.47" y="1151.00" font-size="10" textLength="5.79" lengthAdjust="spacingAndGlyphs" stroke-width=".3">6</text><text x="700.66" y="1134.40" font-size="27.5">= 0</text></g>
</svg>
</body></html>
